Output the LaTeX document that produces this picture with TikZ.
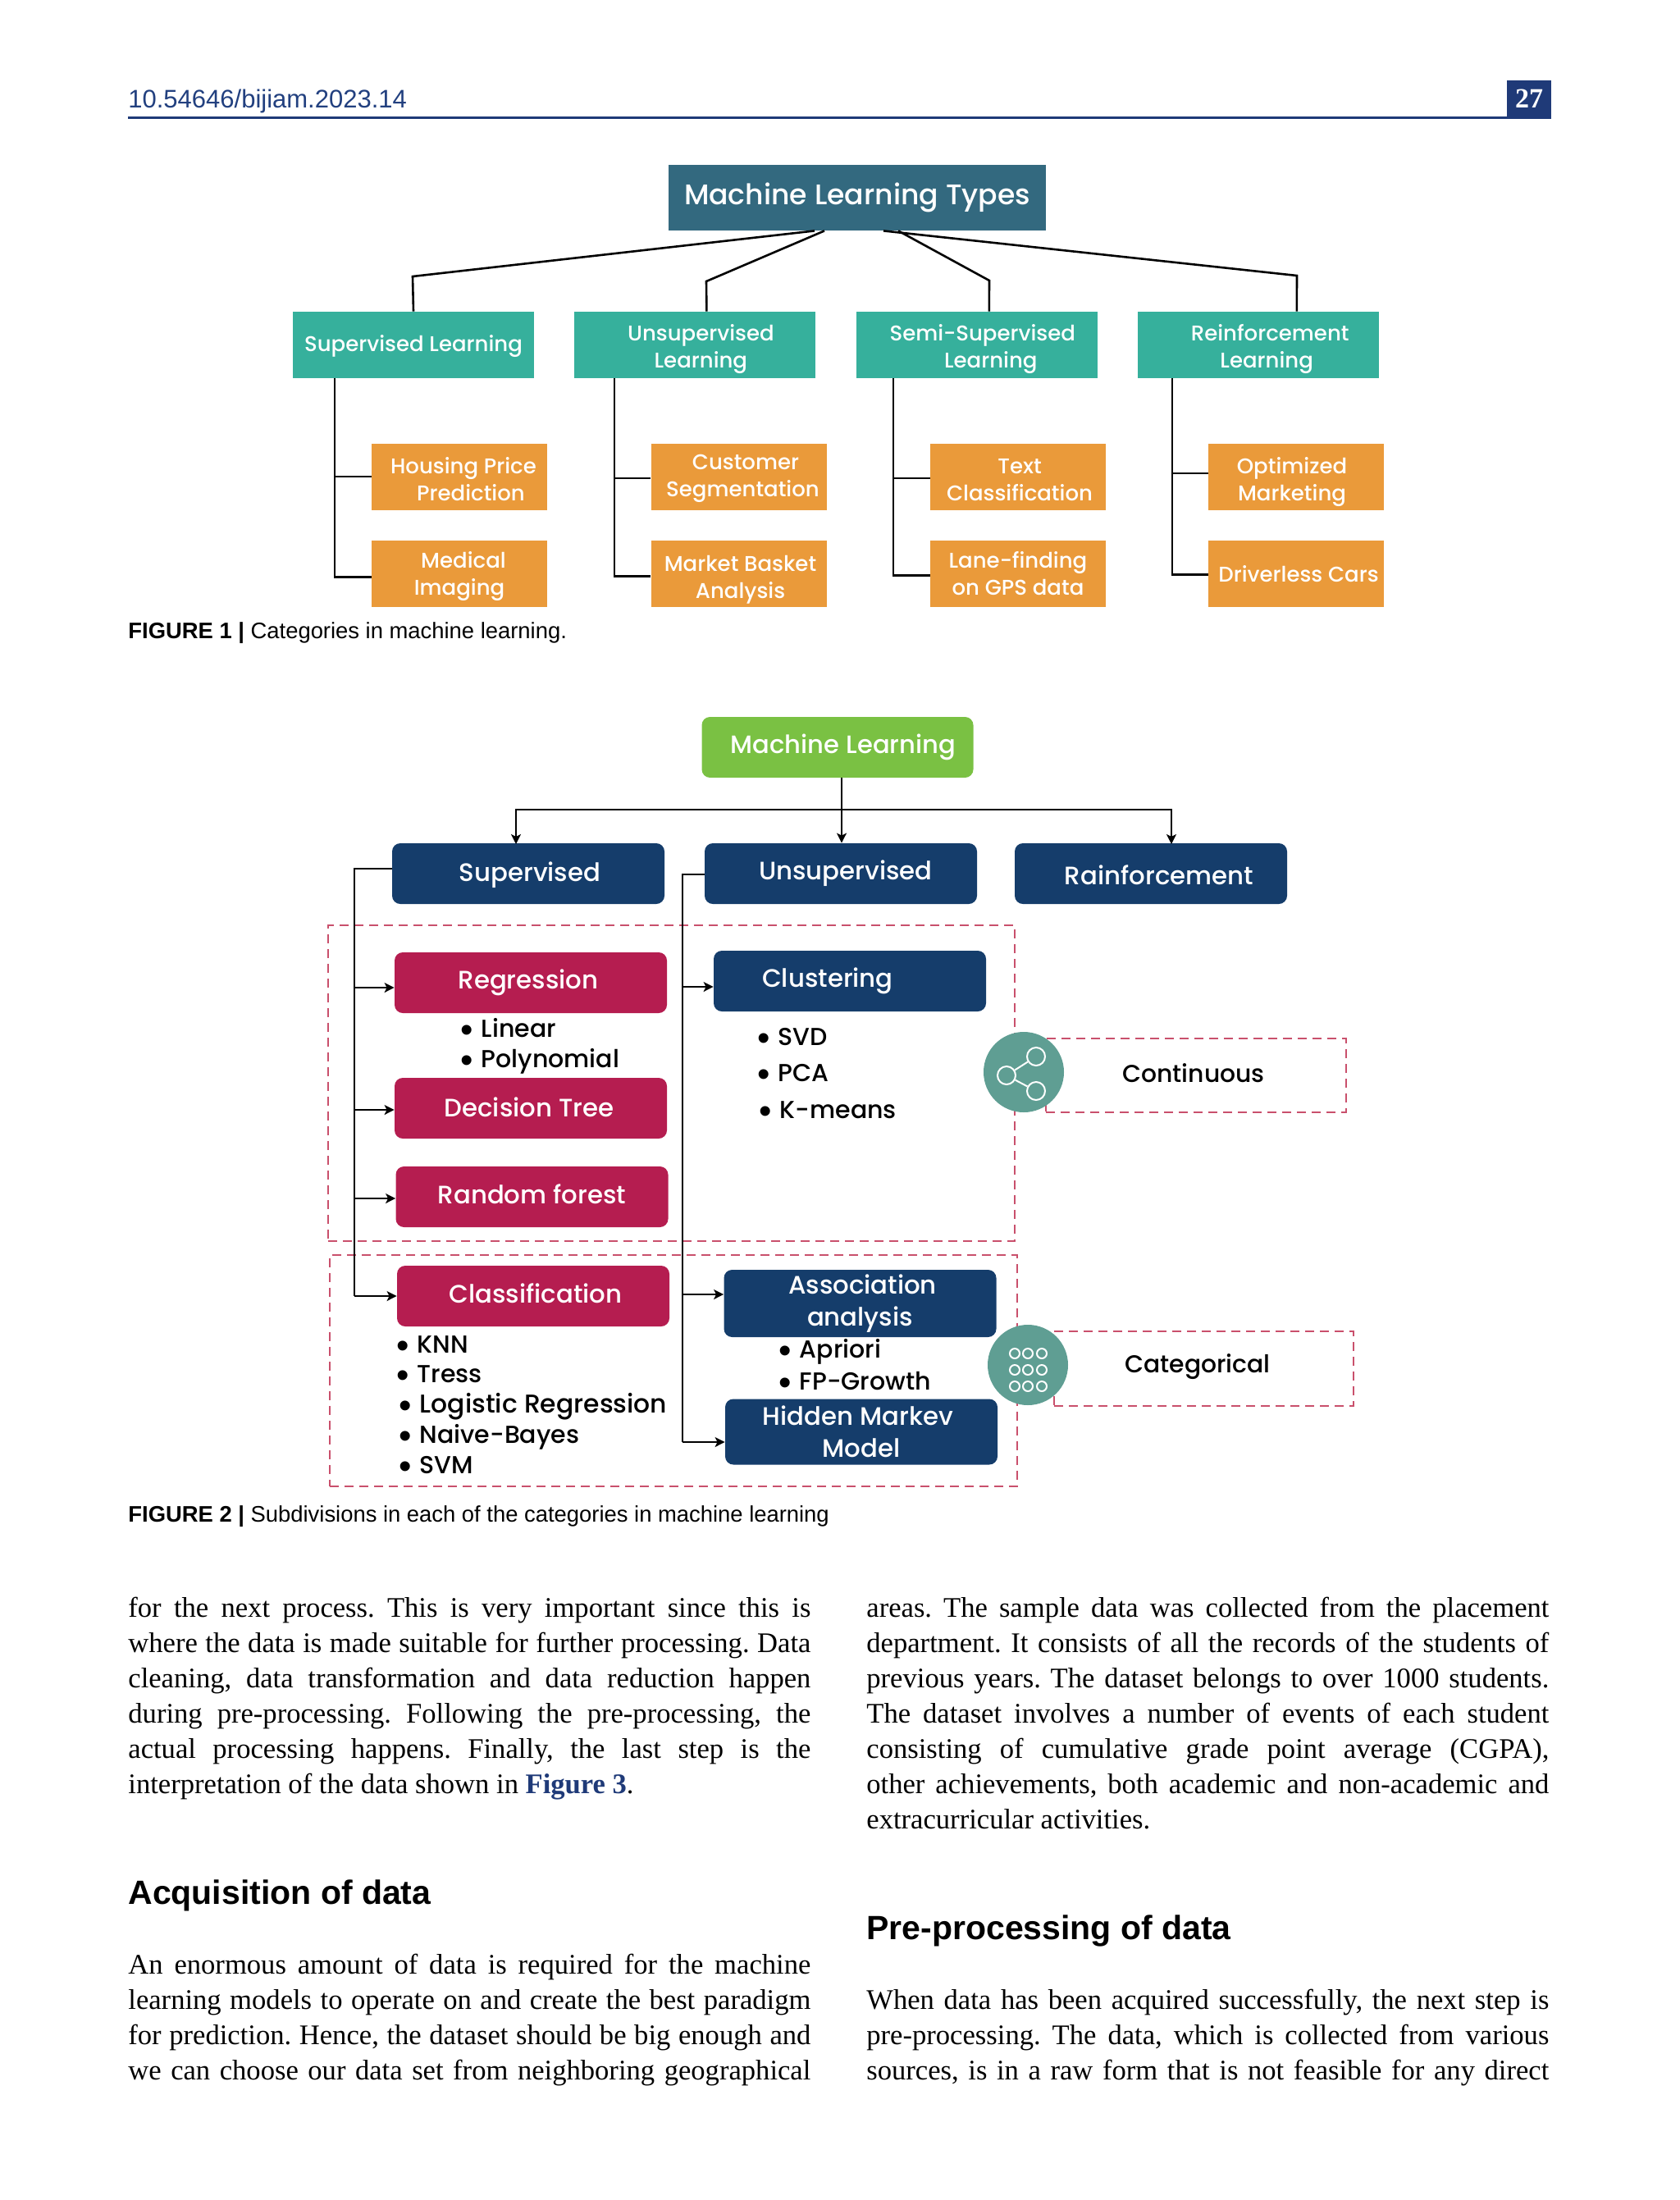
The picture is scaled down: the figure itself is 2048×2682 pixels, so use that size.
\documentclass[tikz,border=0pt]{standalone}
\usepackage{fontspec}
\usetikzlibrary{arrows.meta}
\setmainfont{Liberation Serif}
\newfontfamily\capfont{Liberation Sans}
\newfontfamily\boxfont{Poppins Medium}
\newcommand\dotmark{\smash{{\capfont\fontsize{22}{22}\selectfont\raisebox{-3pt}{\textbullet}}}\hspace{5pt}}
\newcommand\low[1]{\vrule height #1 width 0pt\relax}
\newcommand\rise[1]{\vrule depth #1 width 0pt\relax}
\frenchspacing
\definecolor{headblue}{HTML}{22407F}
\definecolor{pageblue}{HTML}{1F3A78}
\definecolor{rootblue}{HTML}{33697F}
\definecolor{teal}{HTML}{36B09C}
\definecolor{amber}{HTML}{EA9A3A}
\definecolor{leaf}{HTML}{7AC143}
\definecolor{navy}{HTML}{153D6B}
\definecolor{wine}{HTML}{B51D50}
\definecolor{dashred}{HTML}{C9506C}
\definecolor{sage}{HTML}{5F9E93}
\begin{document}
\begin{tikzpicture}[x=0.5pt,y=-0.5pt,node distance={171.7pt},
    flat/.style = {align=center,inner sep=0pt,text=white,font=\boxfont\fontsize{13}{16.5}\selectfont},
    kind/.style = {flat,fill=teal,minimum width=147pt,minimum height=40.5pt},
    usecase/.style = {flat,fill=amber,minimum width=107pt,minimum height=40.5pt},
    roundbox/.style = {align=center,inner sep=0pt,text=white,rounded corners=5pt,minimum width=166pt,minimum height=37pt,font=\boxfont\fontsize{15.4}{19.5}\selectfont},
    group/.style = {roundbox,fill=navy},
    method/.style = {roundbox,fill=wine},
    region/.style = {draw=dashred,dash pattern=on 5.5pt off 3.5pt,line width=0.9pt,inner sep=0pt},
    item/.style = {anchor=west,inner sep=0pt,font=\boxfont\fontsize{15}{16}\selectfont},
    badge/.style = {circle,fill=sage,inner sep=0pt,minimum size=49pt},
    dot/.style = {circle,draw=white,line width=1pt,inner sep=0pt},
    link/.style = {line width=1.3pt},
    feed/.style = {line width=1pt,-{Stealth[length=6pt,width=6pt,inset=1.5pt]}},
    caption/.style = {anchor=west,inner sep=0pt,font=\capfont\fontsize{13.7}{16}\selectfont},
    para/.style = {anchor=north west,inner sep=0pt,text width=416pt,align=justify,font=\fontsize{17.3}{21.45}\selectfont},
    heading/.style = {anchor=west,inner sep=0pt,font=\capfont\bfseries\fontsize{20.5}{24}\selectfont}]
\useasboundingbox (0,0) rectangle (2048,2682);

\node[anchor=west,inner sep=0pt,text=headblue,font=\capfont\fontsize{15.5}{18}\selectfont] (doi) at (156,123) {10.54646/bijiam.2023.14};
\node[fill=pageblue,text=white,inner sep=0pt,minimum width=27pt,minimum height=22.5pt,font=\bfseries\fontsize{17}{20}\selectfont] (page) at (1864,120.5) {27};
\draw[pageblue,line width=1.6pt] (doi.west |- page.south) -- (page.south east);

\node[flat,fill=rootblue,minimum width=230pt,minimum height=40pt,font=\boxfont\fontsize{17.3}{20}\selectfont] (types) at (1045,241) {Machine Learning Types};
\node[kind] (sup) at (504,420.5) {\low{11.3pt}Supervised Learning};
\node[kind] (unsup) [right of=sup] {\low{14.6pt}\hspace*{7pt}Unsupervised\\\hspace*{7pt}Learning};
\node[kind] (semi) [right of=unsup] {\low{14.6pt}\hspace*{7pt}Semi-Supervised\\\hspace*{17pt}Learning};
\node[kind] (rein) [right of=semi] {\low{14.6pt}\hspace*{14pt}Reinforcement\\\hspace*{10pt}Learning};

\node[usecase] (house) at (560,581) {\low{13pt}\hspace*{5pt}Housing Price\\\hspace*{14pt}Prediction};
\node[usecase] (medic) at (560,699.5) {\low{13pt}\hspace*{5pt}Medical\\Imaging};
\node[usecase] (cust) at (900.5,581) {\low{11.3pt}\hspace*{8.5pt}Customer\\\hspace*{5pt}Segmentation};
\node[usecase] (market) at (900.5,699.5) {\low{17.3pt}\hspace*{2pt}Market Basket\\\hspace*{2pt}Analysis};
\node[usecase] (text) at (1241,581) {\low{13pt}\hspace*{2pt}Text\\\hspace*{2pt}Classification};
\node[usecase] (lane) at (1241,699.5) {Lane-finding\\on GPS data};
\node[usecase] (optim) at (1580,581) {\low{16.4pt}Optimized\hspace*{5pt}\\Marketing\hspace*{5pt}};
\node[usecase] (cars) at (1580,699.5) {\hspace*{3pt}Driverless Cars};

\draw[link] ([xshift=-26pt]types.south) -- (503,337) -- (sup.north);
\draw[link] ([xshift=-20pt]types.south) -- (861,343) -- ([xshift=7pt]unsup.north);
\draw[link] ([xshift=25pt]types.south) -- (1206,342) -- ([xshift=7.5pt]semi.north);
\draw[link] ([xshift=16pt]types.south) -- (1581,336) -- ([xshift=23.3pt]rein.north);

\draw[link] (408,461) |- (house.west);
\draw[link] (408,461) |- ([yshift=-2pt]medic.west);
\draw[link] (749,461) |- ([yshift=-1pt]cust.west);
\draw[link] (749,461) |- ([yshift=-1.5pt]market.west);
\draw[link] (1089,461) |- ([yshift=-1pt]text.west);
\draw[link] (1089,461) |- ([yshift=-1pt]lane.west);
\draw[link] (1429,461) |- ([yshift=2pt]optim.west);
\draw[link] (1429,461) |- ([yshift=-.5pt]cars.west);

\node[caption] (capone) at (156,772) {\textbf{FIGURE 1 |} Categories in machine learning.};

\node[region,minimum width=418.5pt,minimum height=192.5pt] (contbox) at (818.5,1320.5) {};
\node[region,minimum width=419pt,minimum height=141pt] (catbox) at (821,1671) {};
\node[region,minimum width=183pt,minimum height=45pt] (contlabel) at (1458,1311) {};
\node[region,minimum width=182.5pt,minimum height=45.5pt] (catlabel) at (1467.5,1668.5) {};
\node[inner sep=0pt,font=\boxfont\fontsize{14.9}{16}\selectfont] (cont) at (1455,1308) {Continuous};
\node[inner sep=0pt,font=\boxfont\fontsize{14.9}{16}\selectfont] (cate) at (1460,1666) {Categorical};

\node[flat,fill=leaf,rounded corners=5pt,minimum width=165.5pt,minimum height=37pt,font=\boxfont\fontsize{15.3}{18}\selectfont] (ml) at (1021,911) {\hspace*{7pt}Machine Learning};
\node[group] (super) at (644,1065) {\low{13.1pt}\hspace*{2pt}Supervised};
\node[group] (unsuper) at (1025,1065) {\hspace*{6pt}Unsupervised};
\node[group] (rainf) at (1403,1065) {\low{13.9pt}\hspace*{10pt}Rainforcement};
\node[method] (regr) at (647,1198) {Regression\hspace*{3pt}};
\node[method] (deci) at (647,1351) {\rise{1.7pt}Decision Tree\hspace*{2pt}};
\node[method] (rand) at (648.5,1459) {\rise{3.4pt}Random forest};
\node[method] (clas) at (650,1580) {\rise{3.4pt}\hspace*{3pt}Classification};
\node[group] (clus) at (1036,1196) {Clustering\hspace*{27pt}};
\node[group,minimum height=41pt] (assoc) at (1048.5,1589) {\hspace*{3pt}Association\\analysis};
\node[group,minimum height=40pt] (hidden) at (1050,1745.5) {Hidden Markev\hspace*{4pt}\\Model};

\coordinate (bus) at (1026,987);
\coordinate (suptrunk) at (432,1059);
\coordinate (untrunk) at (832,1066);
\draw[feed] (ml.south -| bus) -- (unsuper.north -| bus);
\draw[feed] (bus) -| (629,1029);
\draw[feed] (bus) -| (1428,1029);
\draw[link,line width=1pt] (super.west |- suptrunk) -- (suptrunk) -- (suptrunk |- clas.west);
\draw[link,line width=1pt] (unsuper.west |- untrunk) -- (untrunk) -- (untrunk |- 0,1758);
\draw[feed] (suptrunk |- 0,1204) -- ([yshift=-3pt]regr.west);
\draw[feed] (suptrunk |- 0,1353) -- ([yshift=-1pt]deci.west);
\draw[feed] (suptrunk |- 0,1461) -- ([yshift=-1pt]rand.west);
\draw[feed] (suptrunk |- clas.west) -- (clas.west);
\draw[feed] (untrunk |- 0,1203) -- ([yshift=-3.5pt]clus.west);
\draw[feed] (untrunk |- 0,1578) -- ([yshift=5.5pt]assoc.west);
\draw[feed] (untrunk |- 0,1758) -- ([yshift=-6.25pt]hidden.west);

\node[item] (linear) at (561,1253.5) {\dotmark Linear};
\node[item] (poly) at (561,1294) {\dotmark Polynomial};
\node[item] (svd) at (923,1264.5) {\dotmark SVD};
\node[item] (pca) at (923,1308.5) {\dotmark PCA};
\node[item] (kmeans) at (925,1353.5) {\dotmark K-means};
\node[item] (knn) at (483,1639) {\dotmark KNN};
\node[item] (tress) at (483,1675.5) {\dotmark Tress};
\node[item,font=\boxfont\fontsize{15.7}{16}\selectfont] (logit) at (486,1715) {\dotmark Logistic Regression};
\node[item] (naive) at (486,1752) {\dotmark Naive-Bayes};
\node[item] (svm) at (486,1786.5) {\dotmark SVM};
\node[item] (apriori) at (949,1648) {\dotmark Apriori};
\node[item] (fpg) at (949,1684) {\dotmark FP-Growth};

\node[badge] (share) at (1248,1307) {};
\node[dot,minimum size=11pt] (sa) at (1263,1288) {};
\node[dot,minimum size=11pt] (sb) at (1227,1311) {};
\node[dot,minimum size=11pt] (sc) at (1263,1330) {};
\draw[white,line width=1pt] (sb) -- (sa);
\draw[white,line width=1pt] (sb) -- (sc);

\node[badge] (grid) at (1253,1664) {};
\node[dot,minimum size=6pt] (ga) at (1237,1650) {};
\node[dot,minimum size=6pt] (gb) at (1253,1650) {};
\node[dot,minimum size=6pt] (gc) at (1270,1650) {};
\node[dot,minimum size=6pt] (gd) at (1237,1670) {};
\node[dot,minimum size=6pt] (ge) at (1253,1670) {};
\node[dot,minimum size=6pt] (gf) at (1270,1670) {};
\node[dot,minimum size=6pt] (gg) at (1237,1690) {};
\node[dot,minimum size=6pt] (gh) at (1253,1690) {};
\node[dot,minimum size=6pt] (gi) at (1270,1690) {};

\node[caption] (captwo) at (156,1849) {\textbf{FIGURE 2 |} Subdivisions in each of the categories in machine learning};

\node[para] (lefta) at (156,1947) {for the next process. This is very important since this is\linebreak
where the data is made suitable for further processing. Data\linebreak
cleaning, data transformation and data reduction happen\linebreak
during pre-processing. Following the pre-processing, the\linebreak
actual processing happens. Finally, the last step is the\linebreak
interpretation of the data shown in \textcolor{pageblue}{\textbf{Figure 3}}.};
\node[heading] (acq) at (156,2311) {Acquisition of data};
\node[para] (leftb) at (156,2382) {An enormous amount of data is required for the machine\linebreak
learning models to operate on and create the best paradigm\linebreak
for prediction. Hence, the dataset should be big enough and\linebreak
we can choose our data set from neighboring geographical\linebreak};
\node[para] (righta) at (1056,1947) {areas. The sample data was collected from the placement\linebreak
department. It consists of all the records of the students of\linebreak
previous years. The dataset belongs to over 1000 students.\linebreak
The dataset involves a number of events of each student\linebreak
consisting of cumulative grade point average (CGPA),\linebreak
other achievements, both academic and non-academic and\linebreak
extracurricular activities.};
\node[heading] (pre) at (1056,2354) {Pre-processing of data};
\node[para] (rightb) at (1056,2425) {When data has been acquired successfully, the next step is\linebreak
pre-processing. The data, which is collected from various\linebreak
sources, is in a raw form that is not feasible for any direct\linebreak};
\end{tikzpicture}
\end{document}
